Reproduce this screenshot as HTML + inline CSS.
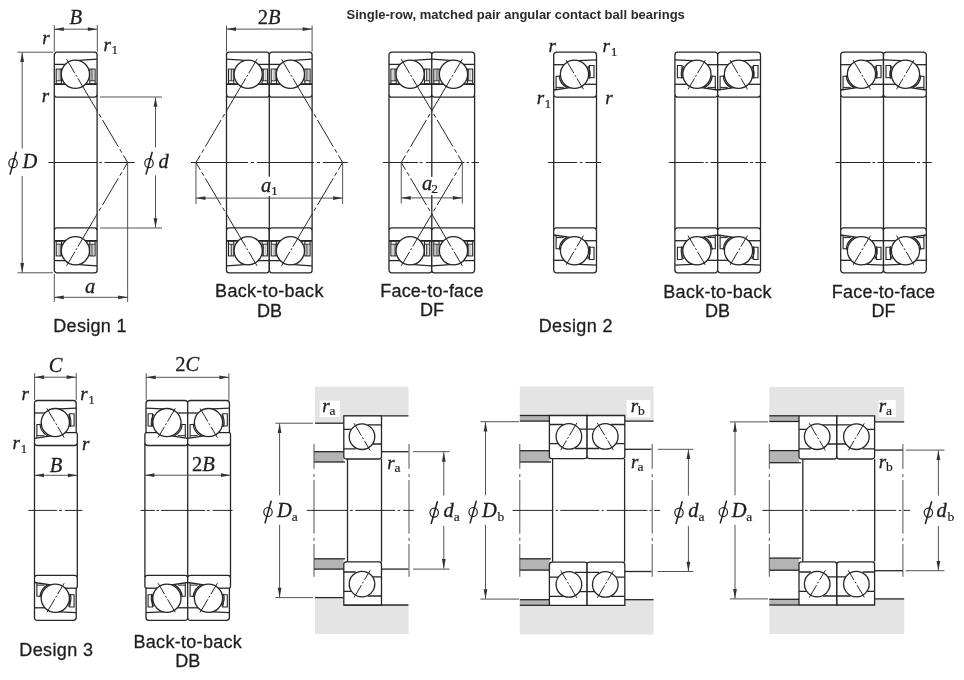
<!DOCTYPE html>
<html><head><meta charset="utf-8"><style>
html,body{margin:0;padding:0;background:#fff;width:964px;height:680px;overflow:hidden;position:relative}
</style></head><body>
<svg width="964" height="680" viewBox="0 0 964 680" style="position:absolute;left:0;top:0;will-change:transform">
<defs><g id="bA" fill="none" stroke="#262626" stroke-width="1.3">
<rect x="0" y="0" width="42.8" height="45.0" rx="2.6" fill="#fff"/>
<path d="M0 12.2H16"/>
<path d="M20 8.7Q31 7.6 42.8 7.0"/>
<path d="M0 31.9H42.8" stroke-width="1.6"/>
<rect x="1.9" y="16.9" width="5.3" height="14.6" fill="#fff" stroke-width="1.1"/>
<rect x="3.2" y="17.6" width="1.6" height="11" fill="#c8c8c8" stroke="none"/>
<path d="M5.9 16.9V28.6M1.9 28.6H7.2" stroke-width="0.9"/>
<rect x="35.5" y="16.9" width="5.3" height="14.6" fill="#fff" stroke-width="1.1"/>
<rect x="38.0" y="17.6" width="1.6" height="11" fill="#c8c8c8" stroke="none"/>
<path d="M37.6 16.9V28.6M35.5 28.6H40.8" stroke-width="0.9"/>
<circle cx="21.1" cy="22.1" r="14.1" fill="#fff"/>
</g><g id="bB" fill="none" stroke="#262626" stroke-width="1.3">
<rect x="0" y="0" width="42.8" height="45.0" rx="2.8" fill="#fff"/>
<path d="M0 12.5H16"/>
<path d="M20 8.6Q31 8.0 42.8 7.6"/>
<path d="M0 37.8L18 35.2"/>
<path d="M20 32.1H42.8"/>
<path d="M35.7 25.5V13.3H40.3V25.5H30" stroke-width="1.1"/>
<path d="M2.4 37V24H6.2" stroke-width="1.1"/>
<path d="M2.4 35.2H10" stroke-width="1.0"/>
<path d="M34.03 13.83A15.6 15.6 0 0 1 35.80 26.40" stroke-width="1.2"/>
<path d="M13.57 35.70A15.4 15.4 0 0 1 5.44 23.17" stroke-width="1.2"/>
<circle cx="20.8" cy="22.1" r="14.1" fill="#fff"/>
</g><g id="bB3" fill="none" stroke="#262626" stroke-width="1.3">
<path d="M0 2.8Q0 0 2.8 0H38.900000000000006Q41.7 0 41.7 2.8V32.1H41.199999999999996Q42.8 32.1 42.8 33.7V42.2Q42.8 45.0 40.0 45.0H2.8Q0 45.0 0 42.2Z" fill="#fff"/>
<path d="M0 12.5H16"/>
<path d="M20 8.6Q31 8.0 41.7 7.6"/>
<path d="M0 37.8L18 35.2"/>
<path d="M20 32.1H41.7"/>
<path d="M35.2 25.5V13.3H39.6V25.5H30" stroke-width="1.1"/>
<path d="M2.4 37V24H6.2" stroke-width="1.1"/>
<path d="M2.4 35.2H10" stroke-width="1.0"/>
<path d="M34.03 13.83A15.6 15.6 0 0 1 35.80 26.40" stroke-width="1.2"/>
<path d="M13.57 35.70A15.4 15.4 0 0 1 5.44 23.17" stroke-width="1.2"/>
<circle cx="20.8" cy="22.1" r="14.1" fill="#fff"/>
</g><g id="bM" fill="none" stroke="#262626" stroke-width="1.3">
<path d="M0 0H37.7V40.7Q37.7 43.2 35.2 43.2H2.5Q0 43.2 0 40.7Z" fill="#fff"/>
<path d="M0 13.6H12M24 9.0H37.7M0 33.0H12M24 28.2H37.7"/>
<circle cx="18.2" cy="20.9" r="12.8" fill="#fff"/>
</g></defs>
<use href="#bA" transform="translate(54.30 52.20) scale(1 1)"/><use href="#bA" transform="translate(54.30 272.80) scale(1 -1)"/><line x1="54.30" y1="95.20" x2="54.30" y2="229.80" stroke="#262626" stroke-width="1.3" /><line x1="97.10" y1="95.20" x2="97.10" y2="229.80" stroke="#262626" stroke-width="1.3" /><path d="M66.54 59.15L127.64 162.50" fill="none" stroke="#262626" stroke-width="1.0" stroke-dasharray="16.4 2 2 2 38.3 3 4 3 31 3 4 3 60"/><path d="M66.54 265.85L127.64 162.50" fill="none" stroke="#262626" stroke-width="1.0" stroke-dasharray="16.4 2 2 2 38.3 3 4 3 31 3 4 3 60"/><line x1="48.30" y1="162.50" x2="134.60" y2="162.50" stroke="#262626" stroke-width="1.0" stroke-dasharray="49.3 1.8 2.5 2.6 40" stroke-dashoffset="0"/><line x1="54.30" y1="25.00" x2="54.30" y2="51.70" stroke="#4a4a4a" stroke-width="0.95" /><line x1="97.30" y1="25.00" x2="97.30" y2="51.70" stroke="#4a4a4a" stroke-width="0.95" /><line x1="54.30" y1="29.20" x2="97.30" y2="29.20" stroke="#4a4a4a" stroke-width="0.95" /><path d="M54.30 29.20L63.80 27.30L63.80 31.10Z" fill="#333"/><path d="M97.30 29.20L87.80 31.10L87.80 27.30Z" fill="#333"/><line x1="17.50" y1="52.20" x2="53.00" y2="52.20" stroke="#4a4a4a" stroke-width="0.95" /><line x1="17.50" y1="272.80" x2="53.00" y2="272.80" stroke="#4a4a4a" stroke-width="0.95" /><line x1="22.20" y1="52.50" x2="22.20" y2="148.50" stroke="#4a4a4a" stroke-width="0.95" /><line x1="22.20" y1="176.00" x2="22.20" y2="272.50" stroke="#4a4a4a" stroke-width="0.95" /><path d="M22.20 52.50L24.10 62.00L20.30 62.00Z" fill="#333"/><path d="M22.20 272.50L20.30 263.00L24.10 263.00Z" fill="#333"/><line x1="100.00" y1="97.00" x2="162.00" y2="97.00" stroke="#4a4a4a" stroke-width="0.95" /><line x1="100.00" y1="228.00" x2="162.00" y2="228.00" stroke="#4a4a4a" stroke-width="0.95" /><line x1="155.50" y1="97.30" x2="155.50" y2="147.40" stroke="#4a4a4a" stroke-width="0.95" /><line x1="155.50" y1="175.30" x2="155.50" y2="227.70" stroke="#4a4a4a" stroke-width="0.95" /><path d="M155.50 97.30L157.40 106.80L153.60 106.80Z" fill="#333"/><path d="M155.50 227.70L153.60 218.20L157.40 218.20Z" fill="#333"/><line x1="127.64" y1="162.50" x2="127.64" y2="302.00" stroke="#4a4a4a" stroke-width="0.95" /><line x1="54.30" y1="273.80" x2="54.30" y2="302.00" stroke="#4a4a4a" stroke-width="0.95" /><line x1="54.30" y1="297.30" x2="127.64" y2="297.30" stroke="#4a4a4a" stroke-width="0.95" /><path d="M54.30 297.30L63.80 295.40L63.80 299.20Z" fill="#333"/><path d="M127.64 297.30L118.14 299.20L118.14 295.40Z" fill="#333"/><use href="#bA" transform="translate(269.30 52.20) scale(-1 1)"/><use href="#bA" transform="translate(269.30 52.20) scale(1 1)"/><use href="#bA" transform="translate(269.30 272.80) scale(-1 -1)"/><use href="#bA" transform="translate(269.30 272.80) scale(1 -1)"/><line x1="226.50" y1="95.20" x2="226.50" y2="229.80" stroke="#262626" stroke-width="1.3" /><line x1="269.30" y1="95.20" x2="269.30" y2="229.80" stroke="#262626" stroke-width="1.3" /><line x1="312.10" y1="95.20" x2="312.10" y2="229.80" stroke="#262626" stroke-width="1.3" /><path d="M257.06 59.15L195.96 162.50" fill="none" stroke="#262626" stroke-width="1.0" stroke-dasharray="16.4 2 2 2 38.3 3 4 3 31 3 4 3 60"/><path d="M257.06 265.85L195.96 162.50" fill="none" stroke="#262626" stroke-width="1.0" stroke-dasharray="16.4 2 2 2 38.3 3 4 3 31 3 4 3 60"/><path d="M281.54 59.15L342.64 162.50" fill="none" stroke="#262626" stroke-width="1.0" stroke-dasharray="16.4 2 2 2 38.3 3 4 3 31 3 4 3 60"/><path d="M281.54 265.85L342.64 162.50" fill="none" stroke="#262626" stroke-width="1.0" stroke-dasharray="16.4 2 2 2 38.3 3 4 3 31 3 4 3 60"/><line x1="191.00" y1="162.50" x2="347.70" y2="162.50" stroke="#262626" stroke-width="1.0" stroke-dasharray="57 3 3 3 57 3 3 3 40" stroke-dashoffset="0"/><line x1="226.50" y1="25.60" x2="226.50" y2="51.70" stroke="#4a4a4a" stroke-width="0.95" /><line x1="312.10" y1="25.60" x2="312.10" y2="51.70" stroke="#4a4a4a" stroke-width="0.95" /><line x1="226.50" y1="29.10" x2="312.10" y2="29.10" stroke="#4a4a4a" stroke-width="0.95" /><path d="M226.50 29.10L236.00 27.20L236.00 31.00Z" fill="#333"/><path d="M312.10 29.10L302.60 31.00L302.60 27.20Z" fill="#333"/><line x1="195.96" y1="162.50" x2="195.96" y2="204.00" stroke="#4a4a4a" stroke-width="0.95" /><line x1="342.64" y1="162.50" x2="342.64" y2="204.00" stroke="#4a4a4a" stroke-width="0.95" /><rect x="259" y="176.6" width="18" height="19.5" fill="#fff"/><line x1="195.96" y1="198.10" x2="342.64" y2="198.10" stroke="#4a4a4a" stroke-width="0.95" /><path d="M195.96 198.10L205.46 196.20L205.46 200.00Z" fill="#333"/><path d="M342.64 198.10L333.14 200.00L333.14 196.20Z" fill="#333"/><use href="#bA" transform="translate(389.00 52.20) scale(1 1)"/><use href="#bA" transform="translate(474.60 52.20) scale(-1 1)"/><use href="#bA" transform="translate(389.00 272.80) scale(1 -1)"/><use href="#bA" transform="translate(474.60 272.80) scale(-1 -1)"/><line x1="389.00" y1="95.20" x2="389.00" y2="229.80" stroke="#262626" stroke-width="1.3" /><line x1="431.80" y1="95.20" x2="431.80" y2="229.80" stroke="#262626" stroke-width="1.3" /><line x1="474.60" y1="95.20" x2="474.60" y2="229.80" stroke="#262626" stroke-width="1.3" /><path d="M401.24 59.15L462.34 162.50" fill="none" stroke="#262626" stroke-width="1.0" stroke-dasharray="16.4 2 2 2 38.3 3 4 3 31 3 4 3 60"/><path d="M401.24 265.85L462.34 162.50" fill="none" stroke="#262626" stroke-width="1.0" stroke-dasharray="16.4 2 2 2 38.3 3 4 3 31 3 4 3 60"/><path d="M462.36 59.15L401.26 162.50" fill="none" stroke="#262626" stroke-width="1.0" stroke-dasharray="16.4 2 2 2 38.3 3 4 3 31 3 4 3 60"/><path d="M462.36 265.85L401.26 162.50" fill="none" stroke="#262626" stroke-width="1.0" stroke-dasharray="16.4 2 2 2 38.3 3 4 3 31 3 4 3 60"/><line x1="383.10" y1="162.50" x2="478.90" y2="162.50" stroke="#262626" stroke-width="1.0" stroke-dasharray="34.8 1.6 3 3.4 38.6 2 2.5 2.5 20" stroke-dashoffset="0"/><line x1="401.26" y1="162.50" x2="401.26" y2="203.50" stroke="#4a4a4a" stroke-width="0.95" /><line x1="462.34" y1="162.50" x2="462.34" y2="203.50" stroke="#4a4a4a" stroke-width="0.95" /><rect x="421" y="176.8" width="21" height="18.2" fill="#fff"/><line x1="401.26" y1="197.90" x2="462.34" y2="197.90" stroke="#4a4a4a" stroke-width="0.95" /><path d="M401.26 197.90L410.76 196.00L410.76 199.80Z" fill="#333"/><path d="M462.34 197.90L452.84 199.80L452.84 196.00Z" fill="#333"/><use href="#bB" transform="translate(553.70 52.20) scale(1 1)"/><use href="#bB" transform="translate(553.70 272.80) scale(1 -1)"/><line x1="553.70" y1="95.20" x2="553.70" y2="229.80" stroke="#262626" stroke-width="1.3" /><line x1="596.50" y1="95.20" x2="596.50" y2="229.80" stroke="#262626" stroke-width="1.3" /><line x1="548.00" y1="162.50" x2="601.00" y2="162.50" stroke="#262626" stroke-width="1.0" stroke-dasharray="29 2.8 2.7 2.9 20" stroke-dashoffset="0"/><path d="M566.10 60.09L583.41 89.37" stroke="#262626" stroke-width="1.0" fill="none" stroke-dasharray="15.30 2 2 2 400"/><path d="M566.10 264.91L583.41 235.63" stroke="#262626" stroke-width="1.0" fill="none" stroke-dasharray="15.30 2 2 2 400"/><use href="#bB" transform="translate(717.70 52.20) scale(-1 1)"/><use href="#bB" transform="translate(717.70 52.20) scale(1 1)"/><use href="#bB" transform="translate(717.70 272.80) scale(-1 -1)"/><use href="#bB" transform="translate(717.70 272.80) scale(1 -1)"/><line x1="674.90" y1="95.20" x2="674.90" y2="229.80" stroke="#262626" stroke-width="1.3" /><line x1="717.70" y1="95.20" x2="717.70" y2="229.80" stroke="#262626" stroke-width="1.3" /><line x1="760.50" y1="95.20" x2="760.50" y2="229.80" stroke="#262626" stroke-width="1.3" /><path d="M705.30 60.09L687.99 89.37" stroke="#262626" stroke-width="1.0" fill="none" stroke-dasharray="15.30 2 2 2 400"/><path d="M705.30 264.91L687.99 235.63" stroke="#262626" stroke-width="1.0" fill="none" stroke-dasharray="15.30 2 2 2 400"/><path d="M730.10 60.09L747.41 89.37" stroke="#262626" stroke-width="1.0" fill="none" stroke-dasharray="15.30 2 2 2 400"/><path d="M730.10 264.91L747.41 235.63" stroke="#262626" stroke-width="1.0" fill="none" stroke-dasharray="15.30 2 2 2 400"/><line x1="668.70" y1="162.50" x2="766.00" y2="162.50" stroke="#262626" stroke-width="1.0" stroke-dasharray="34.9 2 2.5 2.5 37.5 2 3 2.5 20" stroke-dashoffset="0"/><use href="#bB" transform="translate(840.70 52.20) scale(1 1)"/><use href="#bB" transform="translate(926.30 52.20) scale(-1 1)"/><use href="#bB" transform="translate(840.70 272.80) scale(1 -1)"/><use href="#bB" transform="translate(926.30 272.80) scale(-1 -1)"/><line x1="840.70" y1="95.20" x2="840.70" y2="229.80" stroke="#262626" stroke-width="1.3" /><line x1="883.50" y1="95.20" x2="883.50" y2="229.80" stroke="#262626" stroke-width="1.3" /><line x1="926.30" y1="95.20" x2="926.30" y2="229.80" stroke="#262626" stroke-width="1.3" /><path d="M853.10 60.09L870.41 89.37" stroke="#262626" stroke-width="1.0" fill="none" stroke-dasharray="15.30 2 2 2 400"/><path d="M853.10 264.91L870.41 235.63" stroke="#262626" stroke-width="1.0" fill="none" stroke-dasharray="15.30 2 2 2 400"/><path d="M913.90 60.09L896.59 89.37" stroke="#262626" stroke-width="1.0" fill="none" stroke-dasharray="15.30 2 2 2 400"/><path d="M913.90 264.91L896.59 235.63" stroke="#262626" stroke-width="1.0" fill="none" stroke-dasharray="15.30 2 2 2 400"/><line x1="835.50" y1="162.50" x2="931.70" y2="162.50" stroke="#262626" stroke-width="1.0" stroke-dasharray="35 2 2.5 2.5 37.5 2 3 2.5 20" stroke-dashoffset="0"/><use href="#bB3" transform="translate(34.50 400.50) scale(1 1)"/><use href="#bB3" transform="translate(34.50 620.30) scale(1 -1)"/><line x1="34.50" y1="443.50" x2="34.50" y2="577.30" stroke="#262626" stroke-width="1.3" /><line x1="77.30" y1="443.50" x2="77.30" y2="577.30" stroke="#262626" stroke-width="1.3" /><path d="M46.90 408.39L64.21 437.67" stroke="#262626" stroke-width="1.0" fill="none" stroke-dasharray="15.30 2 2 2 400"/><path d="M46.90 612.41L64.21 583.13" stroke="#262626" stroke-width="1.0" fill="none" stroke-dasharray="15.30 2 2 2 400"/><line x1="28.40" y1="510.40" x2="82.50" y2="510.40" stroke="#262626" stroke-width="1.0" stroke-dasharray="28.6 2 3 2.9 20" stroke-dashoffset="0"/><line x1="34.60" y1="373.20" x2="34.60" y2="400.00" stroke="#4a4a4a" stroke-width="0.95" /><line x1="76.20" y1="373.20" x2="76.20" y2="400.00" stroke="#4a4a4a" stroke-width="0.95" /><line x1="34.60" y1="377.20" x2="76.20" y2="377.20" stroke="#4a4a4a" stroke-width="0.95" /><path d="M34.60 377.20L44.10 375.30L44.10 379.10Z" fill="#333"/><path d="M76.20 377.20L66.70 379.10L66.70 375.30Z" fill="#333"/><line x1="34.50" y1="475.30" x2="77.30" y2="475.30" stroke="#4a4a4a" stroke-width="0.95" /><path d="M34.50 475.30L44.00 473.40L44.00 477.20Z" fill="#333"/><path d="M77.30 475.30L67.80 477.20L67.80 473.40Z" fill="#333"/><use href="#bB3" transform="translate(187.70 400.50) scale(-1 1)"/><use href="#bB3" transform="translate(187.70 400.50) scale(1 1)"/><use href="#bB3" transform="translate(187.70 620.30) scale(-1 -1)"/><use href="#bB3" transform="translate(187.70 620.30) scale(1 -1)"/><line x1="144.90" y1="443.50" x2="144.90" y2="577.30" stroke="#262626" stroke-width="1.3" /><line x1="187.70" y1="443.50" x2="187.70" y2="577.30" stroke="#262626" stroke-width="1.3" /><line x1="230.50" y1="443.50" x2="230.50" y2="577.30" stroke="#262626" stroke-width="1.3" /><path d="M175.30 408.39L157.99 437.67" stroke="#262626" stroke-width="1.0" fill="none" stroke-dasharray="15.30 2 2 2 400"/><path d="M175.30 612.41L157.99 583.13" stroke="#262626" stroke-width="1.0" fill="none" stroke-dasharray="15.30 2 2 2 400"/><path d="M200.10 408.39L217.41 437.67" stroke="#262626" stroke-width="1.0" fill="none" stroke-dasharray="15.30 2 2 2 400"/><path d="M200.10 612.41L217.41 583.13" stroke="#262626" stroke-width="1.0" fill="none" stroke-dasharray="15.30 2 2 2 400"/><line x1="140.50" y1="510.40" x2="238.40" y2="510.40" stroke="#262626" stroke-width="1.0" stroke-dasharray="14.3 1.6 2.6 2.1 44.1 1.6 3 2.8 20" stroke-dashoffset="0"/><line x1="146.20" y1="373.30" x2="146.20" y2="400.00" stroke="#4a4a4a" stroke-width="0.95" /><line x1="228.90" y1="373.30" x2="228.90" y2="400.00" stroke="#4a4a4a" stroke-width="0.95" /><line x1="146.20" y1="377.30" x2="228.90" y2="377.30" stroke="#4a4a4a" stroke-width="0.95" /><path d="M146.20 377.30L155.70 375.40L155.70 379.20Z" fill="#333"/><path d="M228.90 377.30L219.40 379.20L219.40 375.40Z" fill="#333"/><rect x="190" y="455" width="26" height="18" fill="#fff"/><line x1="144.90" y1="475.20" x2="230.50" y2="475.20" stroke="#4a4a4a" stroke-width="0.95" /><path d="M144.90 475.20L154.40 473.30L154.40 477.10Z" fill="#333"/><path d="M230.50 475.20L221.00 477.10L221.00 473.30Z" fill="#333"/><g><path d="M315 386.7H408.5V415.8H343.8V423.2H315Z" fill="#e4e4e4"/><line x1="315.00" y1="423.20" x2="343.80" y2="423.20" stroke="#262626" stroke-width="1.3" /><line x1="343.80" y1="415.80" x2="408.50" y2="415.80" stroke="#262626" stroke-width="1.3" /><line x1="275.40" y1="423.20" x2="313.00" y2="423.20" stroke="#4a4a4a" stroke-width="0.95" /><rect x="314" y="451.7" width="29.6" height="10.3" fill="#b4b4b4"/><line x1="314.00" y1="451.70" x2="343.60" y2="451.70" stroke="#262626" stroke-width="1.3" /><line x1="314.00" y1="462.00" x2="345.00" y2="462.00" stroke="#262626" stroke-width="1.3" /><use href="#bM" transform="translate(343.80 415.80) scale(1 1)"/><path d="M354.06 423.27L370.14 450.48" stroke="#262626" stroke-width="1.0" fill="none" stroke-dasharray="14.40 2 2 2 400"/><line x1="381.50" y1="451.70" x2="408.50" y2="451.70" stroke="#262626" stroke-width="1.3" /><line x1="413.00" y1="451.70" x2="449.50" y2="451.70" stroke="#4a4a4a" stroke-width="0.95" /></g><g transform="translate(0 1020.8) scale(1 -1)"><path d="M315 386.7H408.5V415.8H343.8V423.2H315Z" fill="#e4e4e4"/><line x1="315.00" y1="423.20" x2="343.80" y2="423.20" stroke="#262626" stroke-width="1.3" /><line x1="343.80" y1="415.80" x2="408.50" y2="415.80" stroke="#262626" stroke-width="1.3" /><line x1="275.40" y1="423.20" x2="313.00" y2="423.20" stroke="#4a4a4a" stroke-width="0.95" /><rect x="314" y="451.7" width="29.6" height="10.3" fill="#b4b4b4"/><line x1="314.00" y1="451.70" x2="343.60" y2="451.70" stroke="#262626" stroke-width="1.3" /><line x1="314.00" y1="462.00" x2="345.00" y2="462.00" stroke="#262626" stroke-width="1.3" /><use href="#bM" transform="translate(343.80 415.80) scale(1 1)"/><path d="M354.06 423.27L370.14 450.48" stroke="#262626" stroke-width="1.0" fill="none" stroke-dasharray="14.40 2 2 2 400"/><line x1="381.50" y1="451.70" x2="408.50" y2="451.70" stroke="#262626" stroke-width="1.3" /><line x1="413.00" y1="451.70" x2="449.50" y2="451.70" stroke="#4a4a4a" stroke-width="0.95" /></g><rect x="319.8" y="400.7" width="20.2" height="16.3" fill="#fff"/><line x1="347.50" y1="459.00" x2="347.50" y2="561.80" stroke="#262626" stroke-width="1.3" /><line x1="381.50" y1="459.00" x2="381.50" y2="561.80" stroke="#262626" stroke-width="1.3" /><line x1="314.00" y1="444.00" x2="314.00" y2="576.80" stroke="#4a4a4a" stroke-width="0.95" stroke-dasharray="24.8 5.2 3 3.1 53.6 4.1 3.1 3.1 100" stroke-dashoffset="0"/><line x1="409.00" y1="444.00" x2="409.00" y2="576.80" stroke="#4a4a4a" stroke-width="0.95" stroke-dasharray="24.8 5.2 3 3.1 53.6 4.1 3.1 3.1 100" stroke-dashoffset="0"/><line x1="306.80" y1="510.40" x2="413.90" y2="510.40" stroke="#262626" stroke-width="1.0" stroke-dasharray="40.5 2.5 3 2.5 39.8 2.5 2.5 3 20" stroke-dashoffset="0"/><line x1="279.60" y1="423.50" x2="279.60" y2="495.30" stroke="#4a4a4a" stroke-width="0.95" /><line x1="279.60" y1="524.80" x2="279.60" y2="597.30" stroke="#4a4a4a" stroke-width="0.95" /><path d="M279.60 423.50L281.50 433.00L277.70 433.00Z" fill="#333"/><path d="M279.60 597.30L277.70 587.80L281.50 587.80Z" fill="#333"/><line x1="443.80" y1="452.30" x2="443.80" y2="495.60" stroke="#4a4a4a" stroke-width="0.95" /><line x1="443.80" y1="526.00" x2="443.80" y2="568.50" stroke="#4a4a4a" stroke-width="0.95" /><path d="M443.80 452.30L445.70 461.80L441.90 461.80Z" fill="#333"/><path d="M443.80 568.50L441.90 559.00L445.70 559.00Z" fill="#333"/><g><path d="M519.8 386.4H653.6V421.1H624.6V415.5H519.8Z" fill="#e4e4e4"/><rect x="519.8" y="415.5" width="29.7" height="5.6" fill="#b4b4b4"/><line x1="519.80" y1="415.50" x2="549.50" y2="415.50" stroke="#262626" stroke-width="1.3" /><line x1="519.80" y1="421.10" x2="549.50" y2="421.10" stroke="#262626" stroke-width="1.3" /><line x1="624.60" y1="421.10" x2="653.60" y2="421.10" stroke="#262626" stroke-width="1.3" /><line x1="480.40" y1="421.70" x2="519.00" y2="421.70" stroke="#4a4a4a" stroke-width="0.95" /><rect x="519.8" y="450.7" width="29.7" height="11.3" fill="#b4b4b4"/><line x1="519.80" y1="450.70" x2="549.50" y2="450.70" stroke="#262626" stroke-width="1.3" /><line x1="519.80" y1="462.00" x2="551.00" y2="462.00" stroke="#262626" stroke-width="1.3" /><use href="#bM" transform="translate(587.10 415.50) scale(-1 1)"/><use href="#bM" transform="translate(587.10 415.50) scale(1 1)"/><path d="M576.84 422.97L560.76 450.18" stroke="#262626" stroke-width="1.0" fill="none" stroke-dasharray="14.40 2 2 2 400"/><path d="M597.36 422.97L613.44 450.18" stroke="#262626" stroke-width="1.0" fill="none" stroke-dasharray="14.40 2 2 2 400"/><line x1="624.60" y1="449.30" x2="651.50" y2="449.30" stroke="#262626" stroke-width="1.3" /><line x1="657.80" y1="449.30" x2="693.30" y2="449.30" stroke="#4a4a4a" stroke-width="0.95" /></g><g transform="translate(0 1020.8) scale(1 -1)"><path d="M519.8 386.4H653.6V421.1H624.6V415.5H519.8Z" fill="#e4e4e4"/><rect x="519.8" y="415.5" width="29.7" height="5.6" fill="#b4b4b4"/><line x1="519.80" y1="415.50" x2="549.50" y2="415.50" stroke="#262626" stroke-width="1.3" /><line x1="519.80" y1="421.10" x2="549.50" y2="421.10" stroke="#262626" stroke-width="1.3" /><line x1="624.60" y1="421.10" x2="653.60" y2="421.10" stroke="#262626" stroke-width="1.3" /><line x1="480.40" y1="421.70" x2="519.00" y2="421.70" stroke="#4a4a4a" stroke-width="0.95" /><rect x="519.8" y="450.7" width="29.7" height="11.3" fill="#b4b4b4"/><line x1="519.80" y1="450.70" x2="549.50" y2="450.70" stroke="#262626" stroke-width="1.3" /><line x1="519.80" y1="462.00" x2="551.00" y2="462.00" stroke="#262626" stroke-width="1.3" /><use href="#bM" transform="translate(587.10 415.50) scale(-1 1)"/><use href="#bM" transform="translate(587.10 415.50) scale(1 1)"/><path d="M576.84 422.97L560.76 450.18" stroke="#262626" stroke-width="1.0" fill="none" stroke-dasharray="14.40 2 2 2 400"/><path d="M597.36 422.97L613.44 450.18" stroke="#262626" stroke-width="1.0" fill="none" stroke-dasharray="14.40 2 2 2 400"/><line x1="624.60" y1="449.30" x2="651.50" y2="449.30" stroke="#262626" stroke-width="1.3" /><line x1="657.80" y1="449.30" x2="693.30" y2="449.30" stroke="#4a4a4a" stroke-width="0.95" /></g><rect x="626.6" y="400" width="23.8" height="17.5" fill="#fff"/><line x1="552.60" y1="459.00" x2="552.60" y2="561.80" stroke="#262626" stroke-width="1.3" /><line x1="624.60" y1="459.00" x2="624.60" y2="561.80" stroke="#262626" stroke-width="1.3" /><line x1="519.80" y1="444.00" x2="519.80" y2="576.80" stroke="#4a4a4a" stroke-width="0.95" stroke-dasharray="24.8 5.2 3 3.1 53.6 4.1 3.1 3.1 100" stroke-dashoffset="0"/><line x1="652.20" y1="444.00" x2="652.20" y2="576.80" stroke="#4a4a4a" stroke-width="0.95" stroke-dasharray="24.8 5.2 3 3.1 53.6 4.1 3.1 3.1 100" stroke-dashoffset="0"/><line x1="512.50" y1="510.40" x2="660.00" y2="510.40" stroke="#262626" stroke-width="1.0" stroke-dasharray="40.6 2.6 2.2 2.4 39 2.6 2 2.8 40.7 2.2 2 2.5 10" stroke-dashoffset="0"/><line x1="485.50" y1="422.00" x2="485.50" y2="495.30" stroke="#4a4a4a" stroke-width="0.95" /><line x1="485.50" y1="524.80" x2="485.50" y2="598.80" stroke="#4a4a4a" stroke-width="0.95" /><path d="M485.50 422.00L487.40 431.50L483.60 431.50Z" fill="#333"/><path d="M485.50 598.80L483.60 589.30L487.40 589.30Z" fill="#333"/><line x1="688.40" y1="449.60" x2="688.40" y2="495.60" stroke="#4a4a4a" stroke-width="0.95" /><line x1="688.40" y1="526.10" x2="688.40" y2="571.20" stroke="#4a4a4a" stroke-width="0.95" /><path d="M688.40 449.60L690.30 459.10L686.50 459.10Z" fill="#333"/><path d="M688.40 571.20L686.50 561.70L690.30 561.70Z" fill="#333"/><g><path d="M769.3 386.9H904.2V421.9H874.7V415.8H769.3Z" fill="#e4e4e4"/><rect x="769.3" y="415.8" width="29.7" height="5.7" fill="#b4b4b4"/><line x1="769.30" y1="415.80" x2="799.00" y2="415.80" stroke="#262626" stroke-width="1.3" /><line x1="769.30" y1="421.50" x2="799.00" y2="421.50" stroke="#262626" stroke-width="1.3" /><line x1="874.70" y1="421.90" x2="904.20" y2="421.90" stroke="#262626" stroke-width="1.3" /><line x1="729.80" y1="421.90" x2="768.00" y2="421.90" stroke="#4a4a4a" stroke-width="0.95" /><rect x="769.3" y="450.6" width="29.7" height="12.1" fill="#b4b4b4"/><line x1="769.30" y1="450.60" x2="799.00" y2="450.60" stroke="#262626" stroke-width="1.3" /><line x1="769.30" y1="462.70" x2="801.00" y2="462.70" stroke="#262626" stroke-width="1.3" /><use href="#bM" transform="translate(799.00 415.80) scale(1 1)"/><use href="#bM" transform="translate(874.60 415.80) scale(-1 1)"/><path d="M809.26 423.27L825.34 450.48" stroke="#262626" stroke-width="1.0" fill="none" stroke-dasharray="14.40 2 2 2 400"/><path d="M864.34 423.27L848.26 450.48" stroke="#262626" stroke-width="1.0" fill="none" stroke-dasharray="14.40 2 2 2 400"/><line x1="874.70" y1="450.10" x2="903.00" y2="450.10" stroke="#262626" stroke-width="1.3" /><line x1="905.80" y1="450.10" x2="944.50" y2="450.10" stroke="#4a4a4a" stroke-width="0.95" /></g><g transform="translate(0 1020.8) scale(1 -1)"><path d="M769.3 386.9H904.2V421.9H874.7V415.8H769.3Z" fill="#e4e4e4"/><rect x="769.3" y="415.8" width="29.7" height="5.7" fill="#b4b4b4"/><line x1="769.30" y1="415.80" x2="799.00" y2="415.80" stroke="#262626" stroke-width="1.3" /><line x1="769.30" y1="421.50" x2="799.00" y2="421.50" stroke="#262626" stroke-width="1.3" /><line x1="874.70" y1="421.90" x2="904.20" y2="421.90" stroke="#262626" stroke-width="1.3" /><line x1="729.80" y1="421.90" x2="768.00" y2="421.90" stroke="#4a4a4a" stroke-width="0.95" /><rect x="769.3" y="450.6" width="29.7" height="12.1" fill="#b4b4b4"/><line x1="769.30" y1="450.60" x2="799.00" y2="450.60" stroke="#262626" stroke-width="1.3" /><line x1="769.30" y1="462.70" x2="801.00" y2="462.70" stroke="#262626" stroke-width="1.3" /><use href="#bM" transform="translate(799.00 415.80) scale(1 1)"/><use href="#bM" transform="translate(874.60 415.80) scale(-1 1)"/><path d="M809.26 423.27L825.34 450.48" stroke="#262626" stroke-width="1.0" fill="none" stroke-dasharray="14.40 2 2 2 400"/><path d="M864.34 423.27L848.26 450.48" stroke="#262626" stroke-width="1.0" fill="none" stroke-dasharray="14.40 2 2 2 400"/><line x1="874.70" y1="450.10" x2="903.00" y2="450.10" stroke="#262626" stroke-width="1.3" /><line x1="905.80" y1="450.10" x2="944.50" y2="450.10" stroke="#4a4a4a" stroke-width="0.95" /></g><rect x="878.6" y="400" width="17.2" height="17" fill="#fff"/><line x1="802.80" y1="459.30" x2="802.80" y2="561.50" stroke="#262626" stroke-width="1.3" /><line x1="874.70" y1="459.30" x2="874.70" y2="561.50" stroke="#262626" stroke-width="1.3" /><line x1="769.30" y1="444.00" x2="769.30" y2="576.80" stroke="#4a4a4a" stroke-width="0.95" stroke-dasharray="24.8 5.2 3 3.1 53.6 4.1 3.1 3.1 100" stroke-dashoffset="0"/><line x1="902.90" y1="444.00" x2="902.90" y2="576.80" stroke="#4a4a4a" stroke-width="0.95" stroke-dasharray="24.8 5.2 3 3.1 53.6 4.1 3.1 3.1 100" stroke-dashoffset="0"/><line x1="762.30" y1="510.40" x2="910.00" y2="510.40" stroke="#262626" stroke-width="1.0" stroke-dasharray="40.6 2.2 2.5 2.3 39.7 2.2 2.5 2.3 39.6 2.5 2.5 2.5 10" stroke-dashoffset="0"/><line x1="735.00" y1="422.20" x2="735.00" y2="495.30" stroke="#4a4a4a" stroke-width="0.95" /><line x1="735.00" y1="524.80" x2="735.00" y2="598.60" stroke="#4a4a4a" stroke-width="0.95" /><path d="M735.00 422.20L736.90 431.70L733.10 431.70Z" fill="#333"/><path d="M735.00 598.60L733.10 589.10L736.90 589.10Z" fill="#333"/><line x1="938.40" y1="450.40" x2="938.40" y2="495.60" stroke="#4a4a4a" stroke-width="0.95" /><line x1="938.40" y1="526.10" x2="938.40" y2="570.40" stroke="#4a4a4a" stroke-width="0.95" /><path d="M938.40 450.40L940.30 459.90L936.50 459.90Z" fill="#333"/><path d="M938.40 570.40L936.50 560.90L940.30 560.90Z" fill="#333"/>
<text x="346.5" y="18.7" font-family="Liberation Sans" font-weight="bold" font-size="13" fill="#2a2a2a">Single-row, matched pair angular contact ball bearings</text><text x="75.7" y="23.6" font-family="Liberation Serif" font-style="italic" font-size="20.5" text-anchor="middle" fill="#1e1e1e" stroke="#1e1e1e" stroke-width="0.3">B</text><text x="45.9" y="43.8" font-family="Liberation Serif" font-style="italic" font-size="19" text-anchor="middle" fill="#1e1e1e" stroke="#1e1e1e" stroke-width="0.3">r</text><text x="107.2" y="50.8" font-family="Liberation Serif" font-style="italic" font-size="19" text-anchor="middle" fill="#1e1e1e" stroke="#1e1e1e" stroke-width="0.3">r</text><text x="111.6" y="54" font-family="Liberation Serif" font-size="13" fill="#1e1e1e" stroke="#1e1e1e" stroke-width="0.2">1</text><text x="45.5" y="102" font-family="Liberation Serif" font-style="italic" font-size="19" text-anchor="middle" fill="#1e1e1e" stroke="#1e1e1e" stroke-width="0.3">r</text><ellipse cx="13.05" cy="163.2" rx="4.2" ry="4.5" fill="none" stroke="#1e1e1e" stroke-width="1.2"/><path d="M9.95 174.60L16.35 151.80" stroke="#1e1e1e" stroke-width="1.5"/><text x="29.8" y="168" font-family="Liberation Serif" font-style="italic" font-size="20.5" text-anchor="middle" fill="#1e1e1e" stroke="#1e1e1e" stroke-width="0.3">D</text><ellipse cx="149" cy="163.2" rx="4.2" ry="4.5" fill="none" stroke="#1e1e1e" stroke-width="1.2"/><path d="M145.90 174.60L152.30 151.80" stroke="#1e1e1e" stroke-width="1.5"/><text x="163.5" y="168" font-family="Liberation Serif" font-style="italic" font-size="20.5" text-anchor="middle" fill="#1e1e1e" stroke="#1e1e1e" stroke-width="0.3">d</text><text x="90" y="293" font-family="Liberation Serif" font-style="italic" font-size="20.5" text-anchor="middle" fill="#1e1e1e" stroke="#1e1e1e" stroke-width="0.3">a</text><text x="90.0" y="331.6" font-family="Liberation Sans" font-size="18" text-anchor="middle" letter-spacing="0.3" fill="#1e1e1e" stroke="#1e1e1e" stroke-width="0.3">Design 1</text><text x="257.7" y="23.8" font-family="Liberation Serif" font-size="20.5" fill="#1e1e1e" stroke="#1e1e1e" stroke-width="0.3">2<tspan font-style="italic">B</tspan></text><text x="266.1" y="191.5" font-family="Liberation Serif" font-style="italic" font-size="20.5" text-anchor="middle" fill="#1e1e1e" stroke="#1e1e1e" stroke-width="0.3">a</text><text x="271.0" y="194.8" font-family="Liberation Serif" font-size="13.5" fill="#1e1e1e" stroke="#1e1e1e" stroke-width="0.2">1</text><text x="269.4" y="296.9" font-family="Liberation Sans" font-size="18" text-anchor="middle" letter-spacing="0.3" fill="#1e1e1e" stroke="#1e1e1e" stroke-width="0.3">Back-to-back</text><text x="269.4" y="316.8" font-family="Liberation Sans" font-size="18" text-anchor="middle" letter-spacing="0" fill="#1e1e1e" stroke="#1e1e1e" stroke-width="0.3">DB</text><text x="427.2" y="189.8" font-family="Liberation Serif" font-style="italic" font-size="20.5" text-anchor="middle" fill="#1e1e1e" stroke="#1e1e1e" stroke-width="0.3">a</text><text x="431.2" y="192.6" font-family="Liberation Serif" font-size="13.5" fill="#1e1e1e" stroke="#1e1e1e" stroke-width="0.2">2</text><text x="432" y="296.6" font-family="Liberation Sans" font-size="18" text-anchor="middle" letter-spacing="0.2" fill="#1e1e1e" stroke="#1e1e1e" stroke-width="0.3">Face-to-face</text><text x="432" y="316.1" font-family="Liberation Sans" font-size="18" text-anchor="middle" letter-spacing="0" fill="#1e1e1e" stroke="#1e1e1e" stroke-width="0.3">DF</text><text x="552.1" y="52.4" font-family="Liberation Serif" font-style="italic" font-size="19" text-anchor="middle" fill="#1e1e1e" stroke="#1e1e1e" stroke-width="0.3">r</text><text x="606.2" y="52.4" font-family="Liberation Serif" font-style="italic" font-size="19" text-anchor="middle" fill="#1e1e1e" stroke="#1e1e1e" stroke-width="0.3">r</text><text x="610.8" y="55.9" font-family="Liberation Serif" font-size="13.5" fill="#1e1e1e" stroke="#1e1e1e" stroke-width="0.2">1</text><text x="540.5" y="103.5" font-family="Liberation Serif" font-style="italic" font-size="19" text-anchor="middle" fill="#1e1e1e" stroke="#1e1e1e" stroke-width="0.3">r</text><text x="544.4" y="107.6" font-family="Liberation Serif" font-size="13.5" fill="#1e1e1e" stroke="#1e1e1e" stroke-width="0.2">1</text><text x="608.9" y="103.5" font-family="Liberation Serif" font-style="italic" font-size="19" text-anchor="middle" fill="#1e1e1e" stroke="#1e1e1e" stroke-width="0.3">r</text><text x="575.8" y="331.8" font-family="Liberation Sans" font-size="18" text-anchor="middle" letter-spacing="0.4" fill="#1e1e1e" stroke="#1e1e1e" stroke-width="0.3">Design 2</text><text x="717.6" y="297.5" font-family="Liberation Sans" font-size="18" text-anchor="middle" letter-spacing="0.3" fill="#1e1e1e" stroke="#1e1e1e" stroke-width="0.3">Back-to-back</text><text x="717.6" y="316.8" font-family="Liberation Sans" font-size="18" text-anchor="middle" letter-spacing="0" fill="#1e1e1e" stroke="#1e1e1e" stroke-width="0.3">DB</text><text x="883.6" y="297.5" font-family="Liberation Sans" font-size="18" text-anchor="middle" letter-spacing="0.2" fill="#1e1e1e" stroke="#1e1e1e" stroke-width="0.3">Face-to-face</text><text x="883.6" y="316.8" font-family="Liberation Sans" font-size="18" text-anchor="middle" letter-spacing="0" fill="#1e1e1e" stroke="#1e1e1e" stroke-width="0.3">DF</text><text x="55.7" y="372" font-family="Liberation Serif" font-style="italic" font-size="20.5" text-anchor="middle" fill="#1e1e1e" stroke="#1e1e1e" stroke-width="0.3">C</text><text x="25.3" y="400" font-family="Liberation Serif" font-style="italic" font-size="19" text-anchor="middle" fill="#1e1e1e" stroke="#1e1e1e" stroke-width="0.3">r</text><text x="84.0" y="400" font-family="Liberation Serif" font-style="italic" font-size="19" text-anchor="middle" fill="#1e1e1e" stroke="#1e1e1e" stroke-width="0.3">r</text><text x="88.3" y="404" font-family="Liberation Serif" font-size="13" fill="#1e1e1e" stroke="#1e1e1e" stroke-width="0.2">1</text><text x="16.2" y="448.8" font-family="Liberation Serif" font-style="italic" font-size="19" text-anchor="middle" fill="#1e1e1e" stroke="#1e1e1e" stroke-width="0.3">r</text><text x="20.5" y="452.5" font-family="Liberation Serif" font-size="13.5" fill="#1e1e1e" stroke="#1e1e1e" stroke-width="0.2">1</text><text x="85.6" y="450" font-family="Liberation Serif" font-style="italic" font-size="19" text-anchor="middle" fill="#1e1e1e" stroke="#1e1e1e" stroke-width="0.3">r</text><text x="55.9" y="471.6" font-family="Liberation Serif" font-style="italic" font-size="20.5" text-anchor="middle" fill="#1e1e1e" stroke="#1e1e1e" stroke-width="0.3">B</text><text x="56.4" y="655.6" font-family="Liberation Sans" font-size="18" text-anchor="middle" letter-spacing="0.4" fill="#1e1e1e" stroke="#1e1e1e" stroke-width="0.3">Design 3</text><text x="187.3" y="371" font-family="Liberation Serif" font-size="20.5" text-anchor="middle" fill="#1e1e1e" stroke="#1e1e1e" stroke-width="0.3">2<tspan font-style="italic">C</tspan></text><text x="203.5" y="471.3" font-family="Liberation Serif" font-size="20.5" text-anchor="middle" fill="#1e1e1e" stroke="#1e1e1e" stroke-width="0.3">2<tspan font-style="italic">B</tspan></text><text x="187.8" y="647.5" font-family="Liberation Sans" font-size="18" text-anchor="middle" letter-spacing="0.3" fill="#1e1e1e" stroke="#1e1e1e" stroke-width="0.3">Back-to-back</text><text x="187.8" y="667" font-family="Liberation Sans" font-size="18" text-anchor="middle" letter-spacing="0" fill="#1e1e1e" stroke="#1e1e1e" stroke-width="0.3">DB</text><text x="326" y="412" font-family="Liberation Serif" font-style="italic" font-size="19" text-anchor="middle" fill="#1e1e1e" stroke="#1e1e1e" stroke-width="0.3">r</text><text x="329.5" y="415.4" font-family="Liberation Serif" font-size="13.5" fill="#1e1e1e" stroke="#1e1e1e" stroke-width="0.2">a</text><text x="390.9" y="468.7" font-family="Liberation Serif" font-style="italic" font-size="19" text-anchor="middle" fill="#1e1e1e" stroke="#1e1e1e" stroke-width="0.3">r</text><text x="394.6" y="471.7" font-family="Liberation Serif" font-size="13.5" fill="#1e1e1e" stroke="#1e1e1e" stroke-width="0.2">a</text><ellipse cx="268" cy="511.99999999999994" rx="4.2" ry="4.5" fill="none" stroke="#1e1e1e" stroke-width="1.2"/><path d="M264.90 523.40L271.30 500.60" stroke="#1e1e1e" stroke-width="1.5"/><text x="284.4" y="516.8" font-family="Liberation Serif" font-style="italic" font-size="20.5" text-anchor="middle" fill="#1e1e1e" stroke="#1e1e1e" stroke-width="0.3">D</text><text x="291.8" y="520.5" font-family="Liberation Serif" font-size="13.5" fill="#1e1e1e" stroke="#1e1e1e" stroke-width="0.2">a</text><ellipse cx="434.2" cy="512.6" rx="4.2" ry="4.5" fill="none" stroke="#1e1e1e" stroke-width="1.2"/><path d="M431.10 524.00L437.50 501.20" stroke="#1e1e1e" stroke-width="1.5"/><text x="448.6" y="517.4" font-family="Liberation Serif" font-style="italic" font-size="20.5" text-anchor="middle" fill="#1e1e1e" stroke="#1e1e1e" stroke-width="0.3">d</text><text x="453.8" y="520.8" font-family="Liberation Serif" font-size="13.5" fill="#1e1e1e" stroke="#1e1e1e" stroke-width="0.2">a</text><text x="634.5" y="411.9" font-family="Liberation Serif" font-style="italic" font-size="19" text-anchor="middle" fill="#1e1e1e" stroke="#1e1e1e" stroke-width="0.3">r</text><text x="638.0" y="414.5" font-family="Liberation Serif" font-size="13.5" fill="#1e1e1e" stroke="#1e1e1e" stroke-width="0.2">b</text><text x="634.6" y="467.6" font-family="Liberation Serif" font-style="italic" font-size="19" text-anchor="middle" fill="#1e1e1e" stroke="#1e1e1e" stroke-width="0.3">r</text><text x="637.6" y="470.8" font-family="Liberation Serif" font-size="13.5" fill="#1e1e1e" stroke="#1e1e1e" stroke-width="0.2">a</text><ellipse cx="473.1" cy="511.99999999999994" rx="4.2" ry="4.5" fill="none" stroke="#1e1e1e" stroke-width="1.2"/><path d="M470.00 523.40L476.40 500.60" stroke="#1e1e1e" stroke-width="1.5"/><text x="489.5" y="516.8" font-family="Liberation Serif" font-style="italic" font-size="20.5" text-anchor="middle" fill="#1e1e1e" stroke="#1e1e1e" stroke-width="0.3">D</text><text x="497.5" y="520.5" font-family="Liberation Serif" font-size="13.5" fill="#1e1e1e" stroke="#1e1e1e" stroke-width="0.2">b</text><ellipse cx="679" cy="512.6" rx="4.2" ry="4.5" fill="none" stroke="#1e1e1e" stroke-width="1.2"/><path d="M675.90 524.00L682.30 501.20" stroke="#1e1e1e" stroke-width="1.5"/><text x="693.3" y="517.4" font-family="Liberation Serif" font-style="italic" font-size="20.5" text-anchor="middle" fill="#1e1e1e" stroke="#1e1e1e" stroke-width="0.3">d</text><text x="698.4" y="520.8" font-family="Liberation Serif" font-size="13.5" fill="#1e1e1e" stroke="#1e1e1e" stroke-width="0.2">a</text><text x="882.5" y="411.9" font-family="Liberation Serif" font-style="italic" font-size="19" text-anchor="middle" fill="#1e1e1e" stroke="#1e1e1e" stroke-width="0.3">r</text><text x="886.0" y="415.0" font-family="Liberation Serif" font-size="13.5" fill="#1e1e1e" stroke="#1e1e1e" stroke-width="0.2">a</text><text x="882.5" y="467.6" font-family="Liberation Serif" font-style="italic" font-size="19" text-anchor="middle" fill="#1e1e1e" stroke="#1e1e1e" stroke-width="0.3">r</text><text x="886.0" y="470.6" font-family="Liberation Serif" font-size="13.5" fill="#1e1e1e" stroke="#1e1e1e" stroke-width="0.2">b</text><ellipse cx="723.3" cy="511.99999999999994" rx="4.2" ry="4.5" fill="none" stroke="#1e1e1e" stroke-width="1.2"/><path d="M720.20 523.40L726.60 500.60" stroke="#1e1e1e" stroke-width="1.5"/><text x="739.1" y="516.8" font-family="Liberation Serif" font-style="italic" font-size="20.5" text-anchor="middle" fill="#1e1e1e" stroke="#1e1e1e" stroke-width="0.3">D</text><text x="746.3" y="520.5" font-family="Liberation Serif" font-size="13.5" fill="#1e1e1e" stroke="#1e1e1e" stroke-width="0.2">a</text><ellipse cx="928.4" cy="512.6" rx="4.2" ry="4.5" fill="none" stroke="#1e1e1e" stroke-width="1.2"/><path d="M925.30 524.00L931.70 501.20" stroke="#1e1e1e" stroke-width="1.5"/><text x="941.5" y="517.4" font-family="Liberation Serif" font-style="italic" font-size="20.5" text-anchor="middle" fill="#1e1e1e" stroke="#1e1e1e" stroke-width="0.3">d</text><text x="947.4" y="520.8" font-family="Liberation Serif" font-size="13.5" fill="#1e1e1e" stroke="#1e1e1e" stroke-width="0.2">b</text>
</svg>
</body></html>
